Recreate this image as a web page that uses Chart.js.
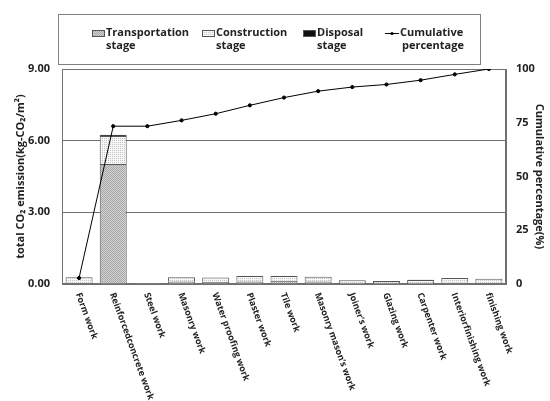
<!DOCTYPE html>
<html>
<head>
<meta charset="utf-8">
<script src="https://cdn.jsdelivr.net/npm/chart.js@4.4.1/dist/chart.umd.min.js"></script>
<style>
  html, body { margin: 0; padding: 0; background: #fff; }
  #wrap { width: 550px; height: 401px; }
</style>
</head>
<body>
<div id="wrap"><canvas id="co2Chart" width="550" height="401"></canvas></div>
<script>
// chart data
const workTypes = ['Form work', 'Reinforcedconcrete work', 'Steel work', 'Masonry work', 'Water proofing work',
    'Plaster work', 'Tile work', 'Masonry mason\u2019s work', 'Joiner\u2019s work', 'Glazing work',
    'Carpenter work', 'Interiorfinishing work', 'finishing work'];
const transportStage = [0.03, 5.02, 0.00, 0.10, 0.08, 0.10, 0.14, 0.10, 0.02, 0.02, 0.02, 0.05, 0.03];
const constructionStage = [0.25, 1.18, 0.01, 0.18, 0.19, 0.24, 0.20, 0.20, 0.14, 0.11, 0.15, 0.20, 0.19];
const disposalStage = [0.00, 0.05, 0.00, 0.00, 0.00, 0.00, 0.00, 0.00, 0.00, 0.00, 0.01, 0.00, 0.00];
const cumulativePct = [2.8, 73.4, 73.4, 76.1, 79.2, 83.1, 86.7, 89.7, 91.6, 92.8, 94.8, 97.5, 100];
const emissionTicks = [0, 3, 6, 9];
const percentTicks = [0, 25, 50, 75, 100];

// small pattern fills like the printed screens
function makePattern(bg, fg, size, dots) {
    const c = document.createElement('canvas');
    c.width = size; c.height = size;
    const g = c.getContext('2d');
    g.fillStyle = bg;
    g.fillRect(0, 0, size, size);
    g.fillStyle = fg;
    dots.forEach(d => g.fillRect(d[0], d[1], 1, 1));
    return g.createPattern(c, 'repeat');
}
const transportFill = makePattern('#d4d4d4', '#a6a6a6', 2, [[0, 0], [1, 1]]);
const constructionFill = makePattern('#f7f7f7', '#c4c4c4', 2, [[0, 0]]);

// legend drawn as a boxed row above the plot
const legendBox = {
    id: 'legendBox',
    afterDraw(chart) {
        const ctx = chart.ctx;
        ctx.save();
        ctx.strokeStyle = '#808080';
        ctx.lineWidth = 1;
        ctx.strokeRect(58.5, 14.5, 422, 50);
        ctx.font = 'bold 11px "Open Sans", "Liberation Sans", sans-serif';
        ctx.fillStyle = '#222';
        ctx.textBaseline = 'middle';
        const items = [
            {x: 92, fill: transportFill, l1: 'Transportation', l2: 'stage'},
            {x: 202, fill: constructionFill, l1: 'Construction', l2: 'stage'},
            {x: 303, fill: '#111', l1: 'Disposal', l2: 'stage'},
            {x: 385, line: true, l1: 'Cumulative', l2: 'percentage'}
        ];
        items.forEach(it => {
            if (it.line) {
                ctx.beginPath();
                ctx.moveTo(it.x, 33.5);
                ctx.lineTo(it.x + 14, 33.5);
                ctx.strokeStyle = '#000';
                ctx.stroke();
                ctx.beginPath();
                ctx.arc(it.x + 7, 33.5, 1.6, 0, Math.PI * 2);
                ctx.fillStyle = '#000';
                ctx.fill();
                ctx.fillStyle = '#222';
                ctx.fillText(it.l1, it.x + 15, 33);
                ctx.fillText(it.l2, it.x + 17, 46);
            } else {
                ctx.fillStyle = it.fill;
                ctx.fillRect(it.x, 30, 13, 7);
                ctx.strokeStyle = '#555';
                ctx.strokeRect(it.x + 0.5, 30.5, 12, 6);
                ctx.fillStyle = '#222';
                ctx.fillText(it.l1, it.x + 14, 33);
                ctx.fillText(it.l2, it.x + 14, 46);
            }
        });
        ctx.restore();
    }
};

// x labels: rotated clockwise, starting at each tick
const slantedLabels = {
    id: 'slantedLabels',
    afterDraw(chart) {
        const ctx = chart.ctx;
        const xs = chart.scales.x;
        ctx.save();
        ctx.font = 'bold 9px "Open Sans", "Liberation Sans", sans-serif';
        ctx.fillStyle = '#222';
        ctx.textAlign = 'left';
        ctx.textBaseline = 'middle';
        workTypes.forEach((name, i) => {
            const x = xs.getPixelForTick(i);
            ctx.save();
            ctx.translate(x - 1, chart.chartArea.bottom + 9);
            ctx.rotate(70 * Math.PI / 180);
            ctx.fillText(name, 0, 0);
            ctx.restore();
        });
        ctx.restore();
    }
};

// frame round the plot area
const frameTop = {
    id: 'frameTop',
    beforeDatasetsDraw(chart) {
        const a = chart.chartArea;
        const ctx = chart.ctx;
        ctx.save();
        ctx.strokeStyle = '#707070';
        ctx.lineWidth = 1;
        ctx.strokeRect(a.left + 0.5, a.top + 0.5, a.right - a.left - 1, a.bottom - a.top - 1);
        ctx.restore();
    }
};

document.addEventListener('DOMContentLoaded', function () {
    const ctx = document.getElementById('co2Chart').getContext('2d');
    const barStyle = {borderColor: '#555', borderWidth: 1, barPercentage: 0.79, categoryPercentage: 1, order: 1, stack: 's', yAxisID: 'y'};

    new Chart(ctx, {
        data: {
            labels: workTypes,
            datasets: [
                Object.assign({type: 'bar', label: 'Transportation stage', data: transportStage, backgroundColor: transportFill}, barStyle),
                Object.assign({type: 'bar', label: 'Construction stage', data: constructionStage, backgroundColor: constructionFill}, barStyle),
                Object.assign({type: 'bar', label: 'Disposal stage', data: disposalStage, backgroundColor: '#111'}, barStyle),
                {
                    type: 'line',
                    label: 'Cumulative percentage',
                    data: cumulativePct,
                    yAxisID: 'y1',
                    borderColor: '#000',
                    borderWidth: 1,
                    pointRadius: 1.6,
                    pointBackgroundColor: '#000',
                    pointBorderColor: '#000',
                    tension: 0,
                    order: 0
                }
            ]
        },
        options: {
            responsive: false,
            animation: false,
            layout: {padding: {top: 69, bottom: 109, left: 0, right: 0}},
            plugins: {legend: {display: false}, tooltip: {enabled: false}},
            scales: {
                x: {
                    stacked: true,
                    grid: {display: false},
                    border: {color: '#707070'},
                    ticks: {display: false}
                },
                y: {
                    stacked: true,
                    min: 0,
                    max: 9,
                    afterBuildTicks: s => { s.ticks = emissionTicks.map(v => ({value: v})); },
                    afterFit: s => { s.width = 62; },
                    grid: {color: '#707070', drawTicks: false},
                    border: {color: '#707070'},
                    ticks: {
                        padding: 12,
                        color: '#222',
                        font: {family: '"Open Sans", "Liberation Sans", sans-serif', size: 11, weight: 'bold'},
                        callback: v => v.toFixed(2)
                    },
                    title: {
                        display: true,
                        text: 'total CO\u2082 emission(kg-CO\u2082/m\u00b2)',
                        color: '#222',
                        padding: {top: 14, bottom: 2},
                        font: {family: '"Open Sans", "Liberation Sans", sans-serif', size: 11, weight: 'bold'}
                    }
                },
                y1: {
                    position: 'right',
                    min: 0,
                    max: 100,
                    afterBuildTicks: s => { s.ticks = percentTicks.map(v => ({value: v})); },
                    afterFit: s => { s.width = 44; },
                    grid: {display: false, drawTicks: false},
                    border: {color: '#707070'},
                    ticks: {
                        padding: 10,
                        color: '#222',
                        font: {family: '"Open Sans", "Liberation Sans", sans-serif', size: 11, weight: 'bold'}
                    },
                    title: {
                        display: true,
                        text: 'Cumulative percentage(%)',
                        color: '#222',
                        padding: {top: 4, bottom: 4},
                        font: {family: '"Open Sans", "Liberation Sans", sans-serif', size: 11, weight: 'bold'}
                    }
                }
            }
        },
        plugins: [legendBox, slantedLabels, frameTop]
    });
});
</script>
</body>
</html>
